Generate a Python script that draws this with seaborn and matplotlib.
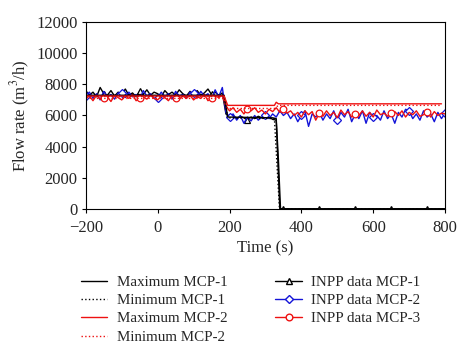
import numpy as np
import pandas as pd
import matplotlib
matplotlib.use("Agg")
import matplotlib.pyplot as plt
import seaborn as sns
from matplotlib.lines import Line2D

# ---- data ----
time_s = list(range(-200, 801, 10))

inpp_mcp1 = [
    7600, 7300, 7500, 7200, 7800, 7400, 7300, 7600, 7250, 7500,
    7350, 7700, 7300, 7450, 7200, 7550, 7350, 7650, 7300, 7500,
    7400, 7200, 7600, 7350, 7500, 7300, 7650, 7400, 7250, 7550,
    7350, 7600, 7300, 7450, 7700, 7350, 7500, 7300, 7450,
    6100, 5900, 6000, 5800, 5950, 5850, 5700, 5900, 5800, 5950,
    5850, 5800, 5900, 5750, 5700,
    0, 0, 0, 0, 0, 0, 0, 0, 0, 0,
    0, 0, 0, 0, 0, 0, 0, 0, 0, 0,
    0, 0, 0, 0, 0, 0, 0, 0, 0, 0,
    0, 0, 0, 0, 0, 0, 0, 0, 0, 0,
    0, 0, 0, 0, 0, 0, 0,
]

inpp_mcp2 = [
    7250, 7500, 7100, 7400, 7000, 7550, 7200, 7350, 7050, 7450,
    7450, 7150, 7500, 7200, 7350, 7000, 7600, 7250, 7400, 7100,
    7150, 7500, 7200, 7400, 7050, 7550, 7250, 7350, 7100, 7500,
    7450, 7150, 7550, 7250, 7400, 7000, 7650, 7200, 7800,
    6200, 5900, 6100, 5700, 6000, 5500, 5900, 5650, 6000, 5700,
    5900, 6000, 5800, 6100, 5900, 6300, 6000, 6200, 5800, 6100,
    5600, 6000, 6300, 5300, 6100, 5900, 6200, 5700, 6100, 5800,
    6300, 5700, 6200, 5900, 6400, 5600, 6100, 5800, 6300, 5500,
    6200, 5900, 6000, 5700, 6300, 5800, 6100, 5500, 6200, 5900,
    6400, 6300, 5800, 6100, 5700, 6300, 5900, 6100, 5600, 6200,
    5800, 6150,
]

inpp_mcp3 = [
    7100, 7250, 6950, 7300, 7050, 7100, 7200, 6900, 7300, 7150,
    7000, 7250, 7100, 7350, 6950, 7100, 7200, 7050, 7300, 7100,
    7000, 7250, 7150, 6950, 7300, 7150, 7050, 7250, 7100, 7300,
    7000, 7200, 7100, 7350, 6950, 7100, 7250, 7150, 7300,
    6600, 6300, 6500, 6200, 6400, 6100, 6400, 6300, 6500, 6200,
    6350, 6100, 6400, 6250, 6500, 6200, 6400, 6150, 6300, 6000,
    6200, 5900, 6300, 6050, 6250, 5700, 6150, 5950, 6300, 6000,
    6200, 5850, 6350, 6050, 6250, 5900, 6100, 6000, 6300, 5950,
    6200, 5900, 6350, 6050, 6150, 5950, 6150, 6250, 6000, 6300,
    5900, 6200, 6050, 6300, 5950, 6050, 6200, 5900, 6250, 6000,
    6150, 6100,
]

max1_t = [-200, 185, 195, 320, 330, 336, 342, 800]
max1_v = [7300, 7300, 5900, 5850, 5800, 3200, 0, 0]
min1_t = [-200, 185, 195, 325, 339, 800]
min1_v = [7250, 7250, 5850, 5800, 0, 0]
max2_t = [-200, 185, 195, 325, 330, 336, 790]
max2_v = [7250, 7250, 6650, 6650, 6850, 6750, 6750]
min2_t = [-200, 185, 195, 325, 336, 790]
min2_v = [7100, 7100, 6450, 6450, 6650, 6650]

x_ticks = [-200, 0, 200, 400, 600, 800]
y_ticks = [0, 2000, 4000, 6000, 8000, 10000, 12000]

# ---- style ----
sns.set_style("white")
plt.rcParams["font.family"] = ["Liberation Serif", "DejaVu Serif"]
plt.rcParams["mathtext.fontset"] = "stix"
FS = 12
LFS = 10.8

fig = plt.figure(figsize=(4.74, 3.57), dpi=100)
ax = fig.add_axes([0.181, 0.415, 0.758, 0.523])

df = pd.DataFrame({"t": time_s, "m1": inpp_mcp1, "m2": inpp_mcp2, "m3": inpp_mcp3})

sns.lineplot(data=df, x="t", y="m1", ax=ax, color="black", lw=1.0,
             marker="^", markevery=(5, 10), mfc="white", mec="black", ms=4.8, mew=0.9)
sns.lineplot(data=df, x="t", y="m2", ax=ax, color="#1414d8", lw=1.0,
             marker="D", markevery=(0, 10), mfc="white", mec="#1414d8", ms=4.0, mew=0.9)
sns.lineplot(data=df, x="t", y="m3", ax=ax, color="#ee1111", lw=1.0,
             marker="o", markevery=(5, 10), mfc="white", mec="#ee1111", ms=4.8, mew=0.9)

sns.lineplot(x=max1_t, y=max1_v, ax=ax, color="black", lw=1.0)
sns.lineplot(x=min1_t, y=min1_v, ax=ax, color="black", lw=1.0, linestyle=":")
sns.lineplot(x=max2_t, y=max2_v, ax=ax, color="#ee1111", lw=1.0)
sns.lineplot(x=min2_t, y=min2_v, ax=ax, color="#ee1111", lw=1.0, linestyle=":")

ax.set_xlim(-200, 800)
ax.set_ylim(0, 12000)
ax.set_xticks(x_ticks)
ax.set_xticklabels(["\u2212200" if v < 0 else str(v) for v in x_ticks], fontsize=FS)
ax.set_yticks(y_ticks)
ax.set_yticklabels([str(v) for v in y_ticks], fontsize=FS)
ax.tick_params(direction="out", length=3, width=0.8, color="black",
               bottom=True, left=True)
ax.tick_params(axis="x", pad=5)
ax.tick_params(axis="y", pad=3)
for s in ax.spines.values():
    s.set_color("black")
    s.set_linewidth(0.8)
ax.set_xlabel("Time (s)", fontsize=FS, labelpad=3)
ax.set_ylabel("Flow rate (m$^3$/h)", fontsize=FS, labelpad=3)

handles = [
    Line2D([], [], color="black", lw=1.0),
    Line2D([], [], color="black", lw=1.0, linestyle=":"),
    Line2D([], [], color="#ee1111", lw=1.0),
    Line2D([], [], color="#ee1111", lw=1.0, linestyle=":"),
    Line2D([], [], color="black", lw=1.0, marker="^", mfc="white", mec="black", ms=4.8),
    Line2D([], [], color="#1414d8", lw=1.0, marker="D", mfc="white", mec="#1414d8", ms=4.0),
    Line2D([], [], color="#ee1111", lw=1.0, marker="o", mfc="white", mec="#ee1111", ms=4.8),
]
labels = ["Maximum MCP-1", "Minimum MCP-1", "Maximum MCP-2", "Minimum MCP-2",
          "INPP data MCP-1", "INPP data MCP-2", "INPP data MCP-3"]
fig.legend(handles, labels, ncol=2, frameon=False, fontsize=LFS,
           loc="upper left", bbox_to_anchor=(0.148, 0.258),
           handlelength=1.75, handletextpad=0.65, columnspacing=3.2,
           labelspacing=0.32, borderpad=0.2)

fig.savefig("out.png", dpi=100)
